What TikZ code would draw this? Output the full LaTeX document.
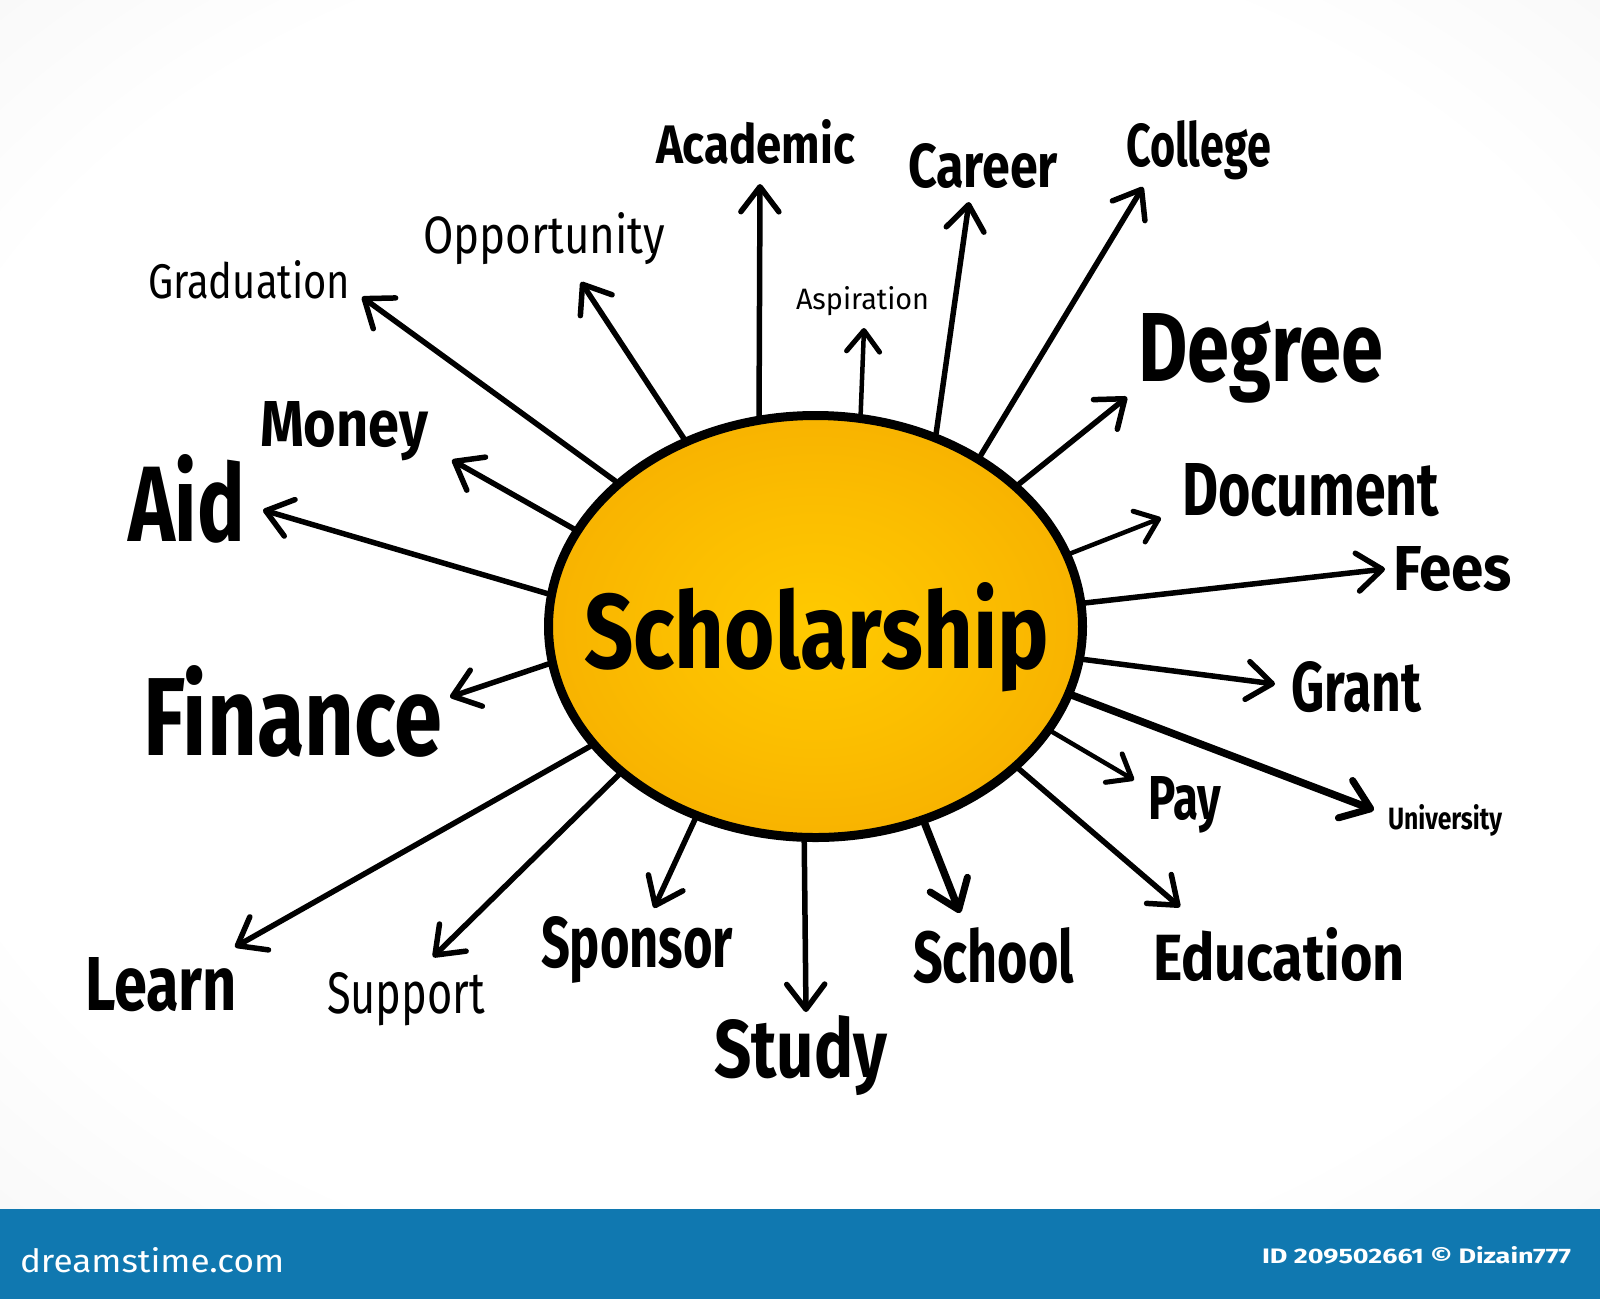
\documentclass[tikz,border=0pt]{standalone}
\usepackage{fontspec}
\setmainfont{Fira Sans}
\usepackage{graphicx}
\usetikzlibrary{arrows.meta,shapes.geometric}
\definecolor{bannerblue}{RGB}{16,120,176}
\definecolor{orgout}{RGB}{240,158,0}
\definecolor{orgmid}{RGB}{246,172,0}
\definecolor{orgin}{RGB}{255,202,0}
\pgfdeclareradialshading{bgshade}{\pgfpoint{0bp}{0bp}}{color(0bp)=(white); color(28bp)=(white); color(50bp)=(black!7); color(72bp)=(black!9)}
\pgfdeclareradialshading{sunshade}{\pgfpoint{0bp}{0bp}}{color(0bp)=(orgin); color(14bp)=(orgin!60!orgmid); color(32bp)=(orgmid); color(48bp)=(orgout); color(60bp)=(orgout)}
\newcommand{\rz}[3]{\resizebox{#1pt}{#2pt}{#3}}
\begin{document}
\begin{tikzpicture}[x=1pt,y=-1pt,
  lbl/.style={anchor=base west, inner sep=0pt, outer sep=0pt, text=black, font=\bfseries},
  lbllight/.style={lbl, font=\mdseries},
  arr/.style={line width=5.5pt, line cap=round, line join=round, draw=black,
    -{Straight Barb[length=25pt,width=38pt,line width=5.5pt,line cap=round,line join=round]}},
  arrsmall/.style={line width=4.5pt, line cap=round, line join=round, draw=black,
    -{Straight Barb[length=21pt,width=33pt,line width=5pt,line cap=round,line join=round]}},
  arrthick/.style={line width=7.5pt, line cap=round, line join=round, draw=black,
    -{Straight Barb[length=27pt,width=40pt,line width=7pt,line cap=round,line join=round]}}]
\useasboundingbox (0,0) rectangle (1600,1299);
\shade[shading=bgshade] (0,0) rectangle (1600,1209);
\fill[bannerblue] (0,1209) rectangle (1600,1299);

% central blob
\node[ellipse, draw=black, line width=9pt, shading=sunshade,
      minimum width=534pt, minimum height=422pt, inner sep=0pt] (sch) at (815.5,626.5) {};
\node[lbl] (schtext) at (584,668) {\rz{465}{86}{Scholarship}};

% labels
\node[lbl] (academic) at (656,163) {\rz{199}{44}{Academic}};
\node[lbl] (career) at (908,187) {\rz{150}{44}{Career}};
\node[lbl] (college) at (1126,166) {\rz{145}{46}{College}};
\node[lbllight] (opportunity) at (423,253) {\rz{242}{41}{Opportunity}};
\node[lbllight] (aspiration) at (796,309) {\rz{133}{23}{Aspiration}};
\node[lbllight] (graduation) at (148,298) {\rz{202}{38}{Graduation}};
\node[lbl] (degree) at (1138,381) {\rz{245}{68}{Degree}};
\node[lbl] (money) at (260,446) {\rz{168}{45}{Money}};
\node[lbl] (aid) at (128,541) {\rz{117}{87}{Aid}};
\node[lbl] (document) at (1182,515) {\rz{257}{52}{Document}};
\node[lbl] (fees) at (1393,590) {\rz{119}{44}{Fees}};
\node[lbl] (finance) at (143,755) {\rz{299}{90}{Finance}};
\node[lbl] (grant) at (1291,711) {\rz{130}{50}{Grant}};
\node[lbl] (pay) at (1148,819) {\rz{73}{43}{Pay}};
\node[lbl] (university) at (1388,829) {\rz{114}{25}{University}};
\node[lbl] (learn) at (85,1010) {\rz{152}{53}{Learn}};
\node[lbllight] (support) at (327,1013) {\rz{158}{41}{Support}};
\node[lbl] (sponsor) at (541,967) {\rz{192}{51}{Sponsor}};
\node[lbl] (study) at (714,1077) {\rz{173}{62}{Study}};
\node[lbl] (school) at (913,982) {\rz{161}{55}{School}};
\node[lbl] (education) at (1153,980) {\rz{252}{53}{Education}};

% arrow tips
\coordinate (tAcademic) at (760,184);
\coordinate (tAspiration) at (864,328);
\coordinate (tCareer) at (969,202);
\coordinate (tCollege) at (1143,187);
\coordinate (tDegree) at (1127,397);
\coordinate (tDocument) at (1161,518);
\coordinate (tFees) at (1385,569);
\coordinate (tGrant) at (1275,684);
\coordinate (tUniversity) at (1374,810);
\coordinate (tPay) at (1134,780);
\coordinate (tEducation) at (1180,907);
\coordinate (tSchool) at (960,913);
\coordinate (tStudy) at (806,1012);
\coordinate (tSponsor) at (654,908);
\coordinate (tSupport) at (433,957);
\coordinate (tLearn) at (235,947);
\coordinate (tFinance) at (450,697);
\coordinate (tAid) at (263,510);
\coordinate (tMoney) at (452,460);
\coordinate (tGraduation) at (362,297);
\coordinate (tOpportunity) at (581,282);

% arrows
\draw[arr] (sch.105.2) -- (tAcademic);
\draw[arrsmall] (sch.78.7) -- (tAspiration);
\draw[arr] (sch.58.1) -- (tCareer);
\draw[arr] (sch.46.3) -- (tCollege);
\draw[arr] (sch.35.3) -- (tDegree);
\draw[arrsmall] (sch.16.1) -- (tDocument);
\draw[arr] (sch.5.1) -- (tFees);
\draw[arr] (sch.-7.4) -- (tGrant);
\draw[arrthick] (sch.-15.7) -- (tUniversity);
\draw[arrsmall] (sch.-24.9) -- (tPay);
\draw[arr] (sch.-35.9) -- (tEducation);
\draw[arrthick] (sch.-61.9) -- (tSchool);
\draw[arr] (sch.-93.3) -- (tStudy);
\draw[arr] (sch.-122.9) -- (tSponsor);
\draw[arr] (sch.-143.2) -- (tSupport);
\draw[arr] (sch.-152.3) -- (tLearn);
\draw[arr] (sch.-172.4) -- (tFinance);
\draw[arr] (sch.173.8) -- (tAid);
\draw[arr] (sch.158.1) -- (tMoney);
\draw[arr] (sch.144.5) -- (tGraduation);
\draw[arr] (sch.125.6) -- (tOpportunity);

% banner texts
\node[lbllight, text=white] (dreamstime) at (20,1272) {\rz{264}{25}{dreamstime.com}};
\node[lbl, text=white] (imageid) at (1262,1263) {\rz{309}{17}{ID 209502661 © Dizain777}};
\end{tikzpicture}
\end{document}
